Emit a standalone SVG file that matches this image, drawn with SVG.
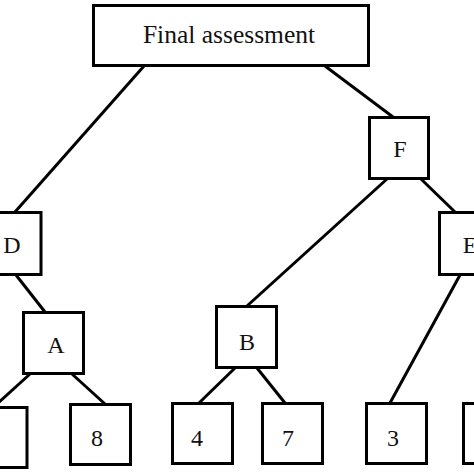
<svg xmlns="http://www.w3.org/2000/svg" width="474" height="474" viewBox="0 0 474 474">
<style>
.b{fill:#fff;stroke:#000;stroke-width:3}
.t{font-family:"Liberation Serif","Times New Roman",serif;font-size:24px;fill:#111;text-anchor:middle}
.c line{stroke:#000;stroke-width:3}
</style>
<rect width="474" height="474" fill="#fff"/>
<g class="c" id="connectors">
<line x1="144" y1="66" x2="15" y2="212"/>
<line x1="325" y1="66" x2="393" y2="117"/>
<line x1="16" y1="275" x2="45" y2="312"/>
<line x1="387" y1="179" x2="247" y2="306"/>
<line x1="421" y1="179" x2="455" y2="212"/>
<line x1="460" y1="275" x2="390" y2="403"/>
<line x1="235" y1="368" x2="199" y2="403"/>
<line x1="257" y1="368" x2="285" y2="403"/>
<line x1="30" y1="374" x2="-2" y2="403"/>
<line x1="72" y1="374" x2="105" y2="404"/>
</g>
<g id="final"><rect class="b" x="93.5" y="5.5" width="275" height="60"/><text class="t" x="229" y="43" style="font-size:25.5px">Final assessment</text></g>
<g id="F"><rect class="b" x="369.5" y="117.5" width="59" height="61"/><text class="t" x="400" y="157">F</text></g>
<g id="D"><rect class="b" x="-19" y="212.5" width="60" height="62"/><text class="t" x="12" y="253">D</text></g>
<g id="E"><rect class="b" x="439.5" y="212.5" width="60" height="62"/><text class="t" x="470" y="253">E</text></g>
<g id="A"><rect class="b" x="23.5" y="312.5" width="60" height="61"/><text class="t" x="56" y="353">A</text></g>
<g id="B"><rect class="b" x="216.5" y="306.5" width="60" height="61"/><text class="t" x="247" y="350">B</text></g>
<g id="n_left"><rect class="b" x="-33" y="407.5" width="60" height="60"/></g>
<g id="n8"><rect class="b" x="70.5" y="404.5" width="60" height="60"/><text class="t" x="97" y="446">8</text></g>
<g id="n4"><rect class="b" x="172.5" y="403.5" width="60" height="60"/><text class="t" x="197" y="446">4</text></g>
<g id="n7"><rect class="b" x="262.5" y="403.5" width="60" height="60"/><text class="t" x="288" y="446">7</text></g>
<g id="n3"><rect class="b" x="366.5" y="403.5" width="60" height="60"/><text class="t" x="393" y="446">3</text></g>
<g id="n_right"><rect class="b" x="463.5" y="403.5" width="60" height="60"/></g>
</svg>
